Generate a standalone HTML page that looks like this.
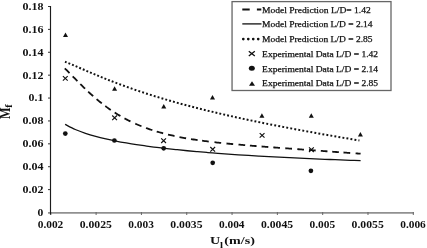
<!DOCTYPE html><html><head><meta charset="utf-8"><title>Chart</title><style>html,body{margin:0;padding:0;background:#fff}svg{display:block}text{font-family:"Liberation Serif",serif;fill:#111}.b{font-weight:bold}</style></head><body>
<svg width="427" height="248" viewBox="0 0 427 248">
<rect width="427" height="248" fill="#fff"/>
<line x1="48.0" y1="212.8" x2="413.8" y2="212.8" stroke="#909090" stroke-width="1.8"/>
<text class="b" x="43.4" y="215.90" font-size="10" text-anchor="end" textLength="5.8" lengthAdjust="spacingAndGlyphs">0</text>
<line x1="48" y1="189.61" x2="50.5" y2="189.61" stroke="#333" stroke-width="1"/>
<text class="b" x="43.4" y="193.01" font-size="10" text-anchor="end" textLength="21.0" lengthAdjust="spacingAndGlyphs">0.02</text>
<line x1="48" y1="166.72" x2="50.5" y2="166.72" stroke="#333" stroke-width="1"/>
<text class="b" x="43.4" y="170.12" font-size="10" text-anchor="end" textLength="21.0" lengthAdjust="spacingAndGlyphs">0.04</text>
<line x1="48" y1="143.83" x2="50.5" y2="143.83" stroke="#333" stroke-width="1"/>
<text class="b" x="43.4" y="147.23" font-size="10" text-anchor="end" textLength="21.0" lengthAdjust="spacingAndGlyphs">0.06</text>
<line x1="48" y1="120.94" x2="50.5" y2="120.94" stroke="#333" stroke-width="1"/>
<text class="b" x="43.4" y="124.34" font-size="10" text-anchor="end" textLength="21.0" lengthAdjust="spacingAndGlyphs">0.08</text>
<line x1="48" y1="98.06" x2="50.5" y2="98.06" stroke="#333" stroke-width="1"/>
<text class="b" x="43.4" y="101.46" font-size="10" text-anchor="end" textLength="14.8" lengthAdjust="spacingAndGlyphs">0.1</text>
<line x1="48" y1="75.17" x2="50.5" y2="75.17" stroke="#333" stroke-width="1"/>
<text class="b" x="43.4" y="78.57" font-size="10" text-anchor="end" textLength="21.0" lengthAdjust="spacingAndGlyphs">0.12</text>
<line x1="48" y1="52.28" x2="50.5" y2="52.28" stroke="#333" stroke-width="1"/>
<text class="b" x="43.4" y="55.68" font-size="10" text-anchor="end" textLength="21.0" lengthAdjust="spacingAndGlyphs">0.14</text>
<line x1="48" y1="29.39" x2="50.5" y2="29.39" stroke="#333" stroke-width="1"/>
<text class="b" x="43.4" y="32.79" font-size="10" text-anchor="end" textLength="21.0" lengthAdjust="spacingAndGlyphs">0.16</text>
<line x1="48" y1="6.50" x2="50.5" y2="6.50" stroke="#333" stroke-width="1"/>
<text class="b" x="43.4" y="9.90" font-size="10" text-anchor="end" textLength="21.0" lengthAdjust="spacingAndGlyphs">0.18</text>
<line x1="50.80" y1="212" x2="50.80" y2="215" stroke="#666" stroke-width="1"/>
<text class="b" x="50.50" y="228.3" font-size="10.5" text-anchor="middle" textLength="25.6" lengthAdjust="spacingAndGlyphs">0.002</text>
<line x1="96.11" y1="212" x2="96.11" y2="215" stroke="#666" stroke-width="1"/>
<text class="b" x="95.81" y="228.3" font-size="10.5" text-anchor="middle" textLength="32.2" lengthAdjust="spacingAndGlyphs">0.0025</text>
<line x1="141.43" y1="212" x2="141.43" y2="215" stroke="#666" stroke-width="1"/>
<text class="b" x="141.12" y="228.3" font-size="10.5" text-anchor="middle" textLength="25.6" lengthAdjust="spacingAndGlyphs">0.003</text>
<line x1="186.74" y1="212" x2="186.74" y2="215" stroke="#666" stroke-width="1"/>
<text class="b" x="186.44" y="228.3" font-size="10.5" text-anchor="middle" textLength="32.2" lengthAdjust="spacingAndGlyphs">0.0035</text>
<line x1="232.05" y1="212" x2="232.05" y2="215" stroke="#666" stroke-width="1"/>
<text class="b" x="231.75" y="228.3" font-size="10.5" text-anchor="middle" textLength="25.6" lengthAdjust="spacingAndGlyphs">0.004</text>
<line x1="277.36" y1="212" x2="277.36" y2="215" stroke="#666" stroke-width="1"/>
<text class="b" x="277.06" y="228.3" font-size="10.5" text-anchor="middle" textLength="32.2" lengthAdjust="spacingAndGlyphs">0.0045</text>
<line x1="322.68" y1="212" x2="322.68" y2="215" stroke="#666" stroke-width="1"/>
<text class="b" x="322.38" y="228.3" font-size="10.5" text-anchor="middle" textLength="25.6" lengthAdjust="spacingAndGlyphs">0.005</text>
<line x1="367.99" y1="212" x2="367.99" y2="215" stroke="#666" stroke-width="1"/>
<text class="b" x="367.69" y="228.3" font-size="10.5" text-anchor="middle" textLength="32.2" lengthAdjust="spacingAndGlyphs">0.0055</text>
<line x1="413.30" y1="212" x2="413.30" y2="215" stroke="#666" stroke-width="1"/>
<text class="b" x="413.00" y="228.3" font-size="10.5" text-anchor="middle" textLength="25.6" lengthAdjust="spacingAndGlyphs">0.006</text>
<line x1="50.5" y1="6.0" x2="50.5" y2="214.6" stroke="#1c1c1c" stroke-width="1.15"/>
<path d="M65.00,61.72 L66.58,62.36 M68.44,63.12 L70.19,63.85 M72.05,64.63 L73.79,65.38 M75.64,66.17 L77.39,66.92 M79.23,67.72 L80.97,68.47 M82.82,69.27 L84.56,70.03 M86.41,70.82 L88.15,71.57 M90.00,72.36 L91.75,73.11 M93.60,73.89 L95.35,74.63 M97.21,75.40 L98.96,76.13 M100.82,76.89 L102.58,77.61 M104.44,78.36 L106.21,79.07 M108.07,79.81 L109.84,80.51 M111.71,81.24 L113.49,81.93 M115.49,82.69 L117.27,83.37 M119.28,84.12 L121.06,84.79 M123.07,85.53 L124.86,86.18 M126.88,86.91 L128.67,87.54 M130.69,88.26 L132.49,88.89 M134.52,89.59 L136.31,90.20 M138.35,90.89 L140.15,91.50 M142.19,92.17 L143.99,92.77 M146.03,93.43 L147.84,94.01 M149.89,94.67 L151.70,95.24 M153.75,95.88 L155.56,96.44 M157.62,97.07 L159.43,97.62 M161.49,98.24 L163.31,98.78 M165.31,99.37 L167.14,99.91 M169.14,100.49 L170.97,101.01 M172.98,101.58 L174.81,102.10 M176.82,102.66 L178.65,103.17 M180.66,103.72 L182.50,104.22 M184.51,104.76 L186.35,105.25 M188.37,105.79 L190.21,106.27 M192.23,106.80 L194.07,107.27 M196.09,107.79 L197.93,108.26 M199.96,108.77 L201.80,109.24 M203.83,109.74 L205.67,110.19 M207.70,110.69 L209.55,111.14 M211.58,111.63 L213.42,112.07 M215.46,112.56 L217.31,112.99 M219.35,113.47 L221.20,113.90 M223.24,114.37 L225.09,114.80 M227.13,115.26 L228.98,115.68 M231.03,116.14 L232.88,116.55 M234.92,117.01 L236.78,117.42 M238.82,117.86 L240.68,118.27 M242.73,118.71 L244.58,119.11 M246.63,119.55 L248.49,119.94 M250.54,120.37 L252.40,120.76 M254.45,121.19 L256.31,121.58 M258.36,122.00 L260.22,122.38 M262.27,122.80 L264.13,123.18 M266.27,123.61 L268.13,123.98 M270.27,124.41 L272.13,124.78 M274.27,125.20 L276.14,125.57 M278.28,125.99 L280.14,126.35 M282.28,126.76 L284.15,127.12 M286.29,127.53 L288.16,127.89 M290.30,128.29 L292.17,128.64 M294.31,129.05 L296.18,129.40 M298.32,129.79 L300.19,130.14 M302.34,130.54 L304.20,130.88 M306.35,131.27 L308.22,131.61 M310.37,132.00 L312.23,132.34 M314.37,132.72 L316.24,133.06 M318.37,133.44 L320.24,133.77 M322.38,134.15 L324.25,134.47 M326.38,134.85 L328.26,135.18 M330.39,135.55 L332.26,135.87 M334.40,136.24 L336.27,136.56 M338.41,136.93 L340.28,137.25 M342.42,137.62 L344.29,137.93 M346.43,138.30 L348.30,138.61 M350.44,138.97 L352.31,139.28 M354.45,139.64 L356.32,139.95 M358.46,140.31 L359.40,140.46" fill="none" stroke="#111" stroke-width="2"/>
<path d="M64.80,68.33 L65.75,69.27 L66.70,70.22 L67.64,71.17 L68.58,72.12 L69.52,73.08 M72.70,76.32 L73.64,77.28 L74.57,78.24 L75.51,79.20 L76.45,80.15 L77.39,81.11 M80.30,84.03 L81.25,84.97 L82.20,85.91 L83.16,86.85 L84.12,87.78 L85.09,88.72 M88.20,91.66 L89.18,92.58 L90.17,93.48 L91.16,94.38 L92.16,95.28 L93.16,96.17 M96.60,99.14 L97.63,100.00 L98.66,100.85 L99.70,101.70 L100.74,102.54 L101.79,103.37 M105.30,106.05 L106.38,106.85 L107.46,107.64 L108.55,108.42 L109.65,109.19 L110.75,109.95 M114.70,112.57 L115.83,113.29 L116.97,114.00 L118.11,114.70 L119.26,115.38 L120.42,116.06 M124.50,118.36 L125.68,118.99 L126.87,119.61 L128.06,120.22 L129.26,120.83 L130.46,121.42 M135.30,123.67 L136.53,124.21 L137.76,124.74 L138.99,125.26 L140.23,125.77 L141.48,126.27 M146.00,127.99 L147.26,128.44 L148.52,128.89 L149.79,129.32 L151.06,129.75 L152.34,130.16 M156.70,131.52 L157.99,131.89 L159.27,132.26 L160.56,132.62 L161.86,132.98 L163.15,133.32 M168.00,134.54 L169.30,134.85 L170.61,135.16 L171.92,135.45 L173.22,135.74 L174.53,136.03 M179.50,137.04 L180.82,137.29 L182.13,137.54 L183.45,137.78 L184.77,138.02 L186.09,138.25 M191.00,139.07 L192.32,139.28 L193.65,139.49 L194.97,139.69 L196.30,139.88 L197.62,140.08 M202.10,140.70 L203.43,140.87 L204.76,141.05 L206.09,141.22 L207.42,141.38 L208.75,141.55 M214.50,142.22 L215.83,142.37 L217.16,142.52 L218.50,142.66 L219.83,142.80 L221.16,142.94 M226.50,143.48 L227.83,143.61 L229.17,143.74 L230.50,143.87 L231.84,143.99 L233.17,144.12 M238.50,144.60 L239.83,144.71 L241.17,144.83 L242.50,144.94 L243.84,145.06 L245.18,145.17 M249.90,145.56 L251.24,145.67 L252.57,145.78 L253.91,145.89 L255.24,145.99 L256.58,146.10 M261.60,146.49 L262.94,146.59 L264.27,146.70 L265.61,146.80 L266.94,146.90 L268.28,147.00 M273.30,147.38 L274.64,147.48 L275.97,147.58 L277.31,147.68 L278.65,147.78 L279.98,147.88 M285.30,148.27 L286.64,148.37 L287.97,148.47 L289.31,148.57 L290.65,148.67 L291.98,148.77 M297.30,149.16 L298.64,149.25 L299.97,149.35 L301.31,149.45 L302.65,149.55 L303.98,149.64 M309.00,150.01 L310.34,150.11 L311.67,150.21 L313.01,150.30 L314.35,150.40 L315.68,150.50 M320.80,150.87 L322.14,150.97 L323.47,151.07 L324.81,151.16 L326.15,151.26 L327.48,151.36 M332.20,151.70 L333.54,151.80 L334.87,151.89 L336.21,151.99 L337.55,152.09 L338.88,152.18 M343.50,152.51 L344.84,152.61 L346.17,152.70 L347.51,152.80 L348.85,152.89 L350.18,152.99 M355.60,153.37 L356.60,153.44 L357.60,153.51 L358.60,153.58 L359.60,153.65 L360.60,153.72" fill="none" stroke="#111" stroke-width="1.8"/>
<path d="M65.10,124.35 C66.80,125.21 71.89,128.00 75.29,129.49 C78.69,130.99 82.08,132.20 85.48,133.35 C88.88,134.50 92.27,135.48 95.67,136.41 C99.07,137.34 102.46,138.15 105.86,138.93 C109.26,139.71 112.65,140.41 116.05,141.08 C119.44,141.75 122.84,142.36 126.24,142.95 C129.63,143.53 133.03,144.08 136.43,144.60 C139.82,145.12 143.22,145.60 146.62,146.07 C150.01,146.54 153.41,146.98 156.81,147.40 C160.20,147.82 163.60,148.22 167.00,148.61 C170.39,149.00 173.79,149.36 177.19,149.71 C180.58,150.07 183.98,150.40 187.38,150.73 C190.77,151.05 194.17,151.36 197.57,151.66 C200.96,151.96 204.36,152.25 207.76,152.53 C211.15,152.81 214.55,153.07 217.94,153.33 C221.34,153.59 224.74,153.84 228.13,154.08 C231.53,154.32 234.93,154.55 238.32,154.78 C241.72,155.00 245.12,155.22 248.51,155.43 C251.91,155.64 255.31,155.85 258.70,156.05 C262.10,156.24 265.50,156.44 268.89,156.62 C272.29,156.81 275.69,156.99 279.08,157.17 C282.48,157.35 285.88,157.52 289.27,157.69 C292.67,157.85 296.07,158.02 299.46,158.18 C302.86,158.34 306.26,158.49 309.65,158.64 C313.05,158.80 316.44,158.94 319.84,159.09 C323.24,159.23 326.63,159.38 330.03,159.52 C333.43,159.66 336.82,159.79 340.22,159.93 C343.62,160.06 347.01,160.19 350.41,160.32 C353.81,160.45 358.90,160.64 360.60,160.70" fill="none" stroke="#111" stroke-width="1.3"/>
<path d="M65.50,32.50 L68.00,37.00 L63.00,37.00 Z" fill="#111"/>
<path d="M114.60,86.30 L117.10,90.80 L112.10,90.80 Z" fill="#111"/>
<path d="M163.75,103.90 L166.25,108.40 L161.25,108.40 Z" fill="#111"/>
<path d="M212.50,95.10 L215.00,99.60 L210.00,99.60 Z" fill="#111"/>
<path d="M261.90,113.30 L264.40,117.80 L259.40,117.80 Z" fill="#111"/>
<path d="M311.30,113.30 L313.80,117.80 L308.80,117.80 Z" fill="#111"/>
<path d="M360.40,132.00 L362.90,136.50 L357.90,136.50 Z" fill="#111"/>
<path d="M62.90,76.10 L67.70,80.70 M62.90,80.70 L67.70,76.10" stroke="#111" stroke-width="1.15" fill="none"/>
<path d="M112.20,115.50 L117.00,120.10 M112.20,120.10 L117.00,115.50" stroke="#111" stroke-width="1.15" fill="none"/>
<path d="M161.20,138.40 L166.00,143.00 M161.20,143.00 L166.00,138.40" stroke="#111" stroke-width="1.15" fill="none"/>
<path d="M210.30,147.00 L215.10,151.60 M210.30,151.60 L215.10,147.00" stroke="#111" stroke-width="1.15" fill="none"/>
<path d="M259.70,133.10 L264.50,137.70 M259.70,137.70 L264.50,133.10" stroke="#111" stroke-width="1.15" fill="none"/>
<path d="M309.00,147.40 L313.80,152.00 M309.00,152.00 L313.80,147.40" stroke="#111" stroke-width="1.15" fill="none"/>
<circle cx="65.30" cy="133.60" r="2.35" fill="#111"/>
<circle cx="114.40" cy="140.50" r="2.35" fill="#111"/>
<circle cx="163.70" cy="148.30" r="2.35" fill="#111"/>
<circle cx="212.70" cy="162.80" r="2.35" fill="#111"/>
<circle cx="310.90" cy="170.80" r="2.35" fill="#111"/>
<rect x="232.05" y="1.6" width="158.95" height="88.9" fill="#fff" stroke="#666" stroke-width="1.3"/>
<path d="M242.3,9.5 H249.7 M256.9,9.5 H261.3" stroke="#111" stroke-width="2" fill="none"/>
<path d="M242.3,23.9 H261.5" stroke="#111" stroke-width="1.3" fill="none"/>
<path d="M243.3,39.1 H259" stroke="#111" stroke-width="2.7" stroke-dasharray="0 4.97" stroke-linecap="round" fill="none"/>
<path d="M248.80,51.20 L254.80,56.00 M248.80,56.00 L254.80,51.20" stroke="#111" stroke-width="1.30" fill="none"/>
<ellipse cx="251.8" cy="68.3" rx="3" ry="2.5" fill="#111"/>
<path d="M252.00,81.30 L255.00,85.80 L249.00,85.80 Z" fill="#111"/>
<text x="262.0" y="12.5" font-size="8.7" stroke="#111" stroke-width="0.25" textLength="108.8" lengthAdjust="spacingAndGlyphs">Model Prediction L/D= 1.42</text>
<text x="262.0" y="27.0" font-size="8.7" stroke="#111" stroke-width="0.25" textLength="110.5" lengthAdjust="spacingAndGlyphs">Model Prediction L/D = 2.14</text>
<text x="262.0" y="42.0" font-size="8.7" stroke="#111" stroke-width="0.25" textLength="110.5" lengthAdjust="spacingAndGlyphs">Model Prediction L/D = 2.85</text>
<text x="262.1" y="56.5" font-size="8.7" stroke="#111" stroke-width="0.25" textLength="116.0" lengthAdjust="spacingAndGlyphs">Experimental Data L/D = 1.42</text>
<text x="262.1" y="71.5" font-size="8.7" stroke="#111" stroke-width="0.25" textLength="116.0" lengthAdjust="spacingAndGlyphs">Experimental Data L/D = 2.14</text>
<text x="262.1" y="86.0" font-size="8.7" stroke="#111" stroke-width="0.25" textLength="116.0" lengthAdjust="spacingAndGlyphs">Experimental Data L/D = 2.85</text>
<text class="b" transform="translate(209.9,243.8) scale(1.28,1)" font-size="11">U<tspan font-size="8.5" dy="3.9">l</tspan><tspan dy="-3.9" dx="1">(m/s)</tspan></text>
<text class="b" transform="translate(10.2,118.9) rotate(-90) scale(1.02,1.25)" font-size="12">M</text>
<text class="b" transform="translate(12.2,107.8) rotate(-90) scale(1.3,1.25)" font-size="8">f</text>
</svg></body></html>
